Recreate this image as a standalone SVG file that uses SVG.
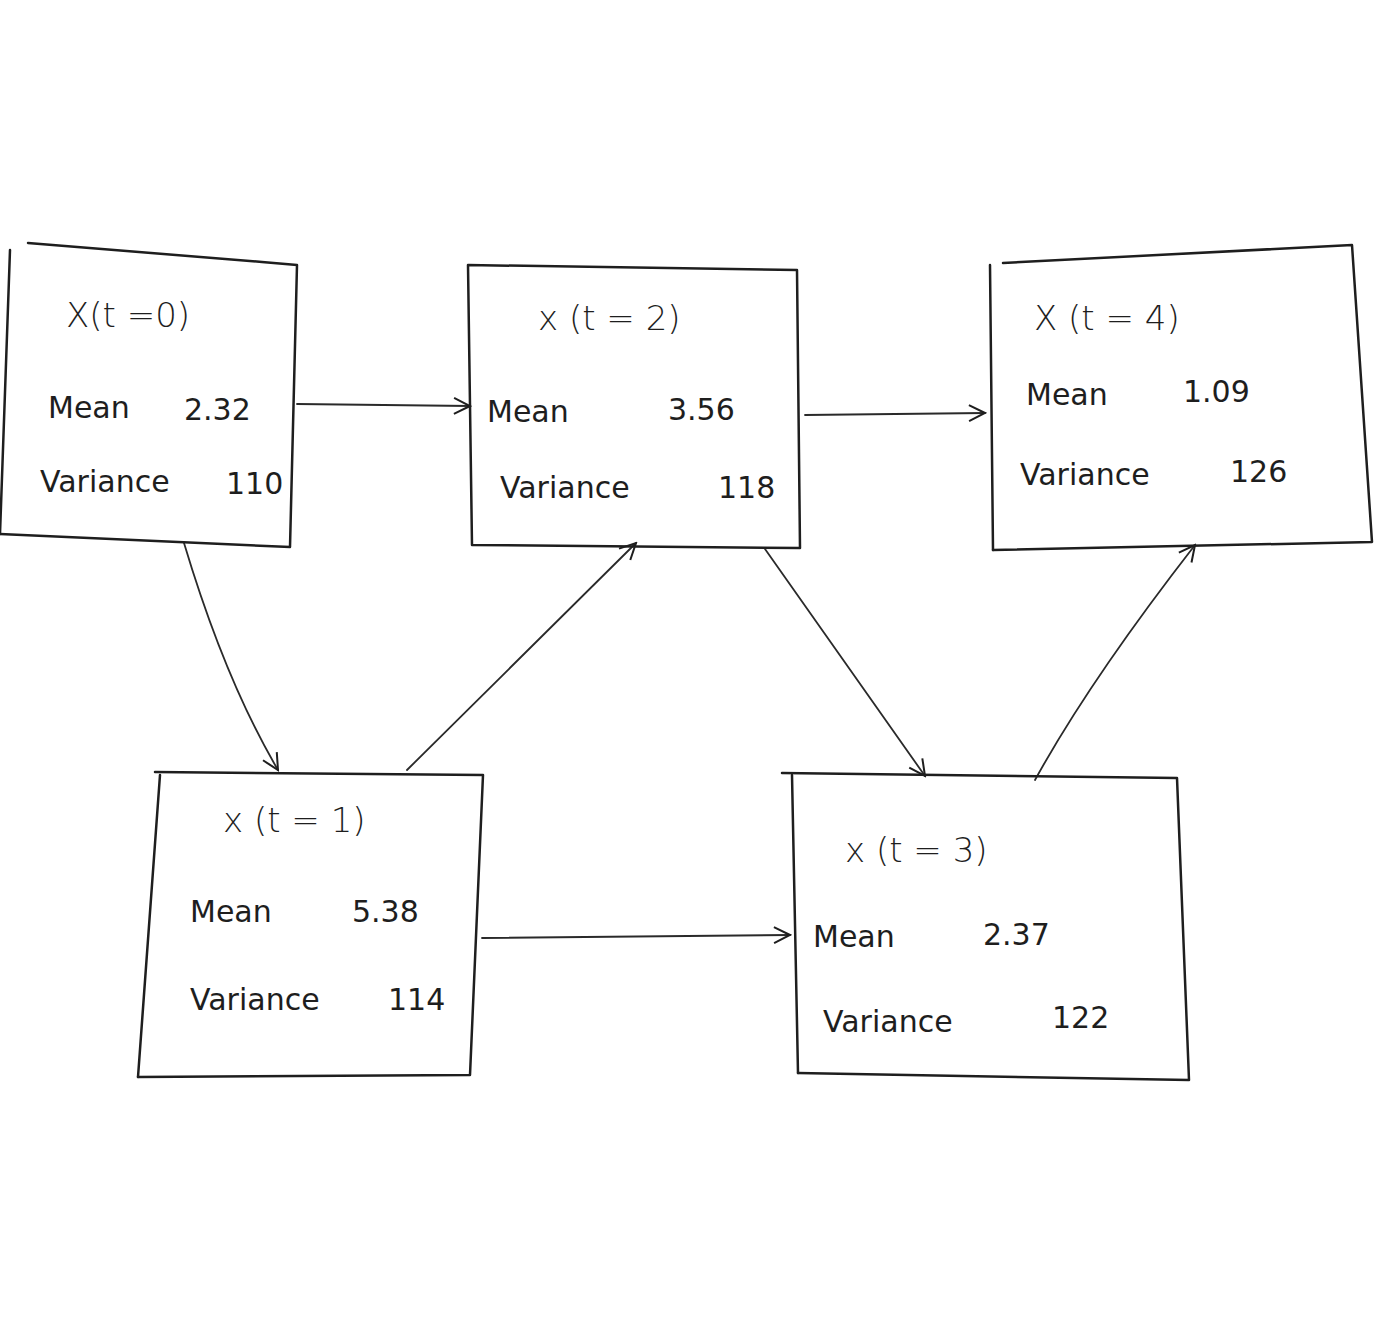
<svg xmlns="http://www.w3.org/2000/svg" width="1400" height="1318" viewBox="0 0 1400 1318">
<style>
.box{fill:none;stroke:#1e1e1e;stroke-width:2.5;stroke-linejoin:round;stroke-linecap:round}
.con{fill:none;stroke:#2a2a2a;stroke-width:1.8;stroke-linecap:round}
.t{font-family:"DejaVu Sans","Liberation Sans",sans-serif;font-size:30px;fill:#1e1e1e}
.h{font-family:"DejaVu Sans","Liberation Sans",sans-serif;font-size:34px;fill:#1e1e1e;font-weight:300}
</style>
<defs>
<marker id="arr" viewBox="0 0 20 20" refX="18" refY="10" markerWidth="20" markerHeight="20" markerUnits="userSpaceOnUse" orient="auto">
<path d="M2,2 L18,10 L2,18" fill="none" stroke="#1e1e1e" stroke-width="2"/>
</marker>
</defs>
<rect width="1400" height="1318" fill="#ffffff"/>
<g id="connectors">
<path class="con" d="M297,404 L470,406" marker-end="url(#arr)"/>
<path class="con" d="M805,415 L985,413" marker-end="url(#arr)"/>
<path class="con" d="M184,543 Q225,680 278,770" marker-end="url(#arr)"/>
<path class="con" d="M407,770 L636,543" marker-end="url(#arr)"/>
<path class="con" d="M765,549 L925,776" marker-end="url(#arr)"/>
<path class="con" d="M1035,780 Q1090,680 1195,545" marker-end="url(#arr)"/>
<path class="con" d="M482,938 L790,935" marker-end="url(#arr)"/>
</g>
<g id="node-t0">
<path class="box" d="M28,243 L262,262 L297,265 L290,547 L0,534"/>
<path class="box" d="M10,250 L0,534"/>
<text class="h" x="66" y="327">X(t =0)</text>
<text class="t" x="48" y="418">Mean</text>
<text class="t" x="184" y="420">2.32</text>
<text class="t" x="40" y="492">Variance</text>
<text class="t" x="226" y="494">110</text>
</g>
<g id="node-t2">
<path class="box" d="M468,265 L797,270 L800,548 L472,545 Z"/>
<text class="h" x="538" y="330">x (t = 2)</text>
<text class="t" x="487" y="422">Mean</text>
<text class="t" x="668" y="420">3.56</text>
<text class="t" x="500" y="498">Variance</text>
<text class="t" x="718" y="498">118</text>
</g>
<g id="node-t4">
<path class="box" d="M1003,263 L1352,245 L1372,542 L993,550"/>
<path class="box" d="M990,265 L993,550"/>
<text class="h" x="1034" y="330">X (t = 4)</text>
<text class="t" x="1026" y="405">Mean</text>
<text class="t" x="1183" y="402">1.09</text>
<text class="t" x="1020" y="485">Variance</text>
<text class="t" x="1230" y="482">126</text>
</g>
<g id="node-t1">
<path class="box" d="M155,772 L483,775 L470,1075 L138,1077"/>
<path class="box" d="M160,775 L138,1077"/>
<text class="h" x="223" y="832">x (t = 1)</text>
<text class="t" x="190" y="922">Mean</text>
<text class="t" x="352" y="922">5.38</text>
<text class="t" x="190" y="1010">Variance</text>
<text class="t" x="388" y="1010">114</text>
</g>
<g id="node-t3">
<path class="box" d="M782,773 L1177,778 L1189,1080 L798,1073"/>
<path class="box" d="M792,775 L798,1073"/>
<text class="h" x="845" y="862">x (t = 3)</text>
<text class="t" x="813" y="947">Mean</text>
<text class="t" x="983" y="945">2.37</text>
<text class="t" x="823" y="1032">Variance</text>
<text class="t" x="1052" y="1028">122</text>
</g>
</svg>
